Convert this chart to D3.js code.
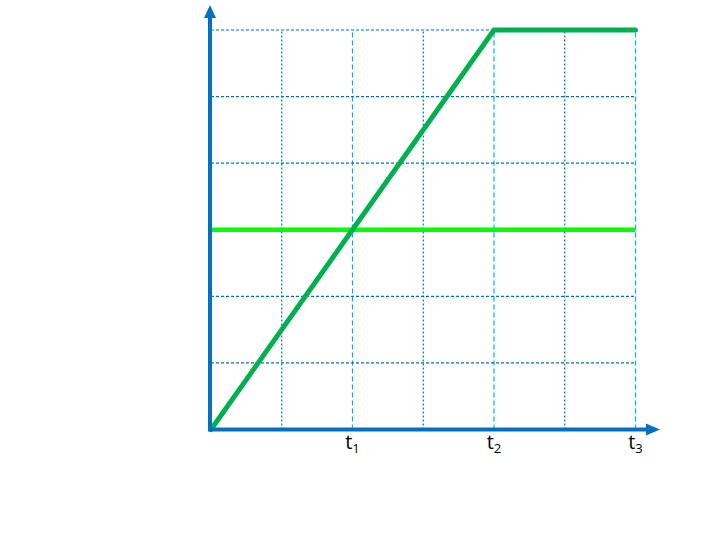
<!DOCTYPE html>
<html>
<head>
<meta charset="utf-8">
<script src="https://cdn.jsdelivr.net/npm/d3@7"></script>
<style>
  body { margin: 0; background: #fff; }
  svg { display: block; }
</style>
</head>
<body>
<svg id="chart" width="720" height="540"></svg>
<script>
// grid steps along each axis
var xGrid = [1, 2, 3, 4, 5, 6];
var yGrid = [1, 2, 3, 4, 5, 6];
// labelled time marks
var tickValues = [2, 4, 6];
var tickLabels = ["1", "2", "3"];
// ramp then hold
var rampX = [0, 4, 6];
var rampY = [0, 6, 6];
// constant level
var levelX = [0, 6];
var levelY = [3, 3];

var svg = d3.select("#chart");

var x = d3.scaleLinear().domain([0, 6]).range([211, 635.5]);
var y = d3.scaleLinear().domain([0, 6]).range([429.5, 30]);

var major = tickValues;

// vertical grid
svg.append("g").selectAll("line")
  .data(xGrid)
  .enter().append("line")
  .attr("x1", function(d){ return x(d); })
  .attr("x2", function(d){ return x(d); })
  .attr("y1", y(0))
  .attr("y2", y(6))
  .attr("stroke", function(d){ return major.indexOf(d) >= 0 ? "#00b0f0" : "#0070c0"; })
  .attr("stroke-width", 1.2)
  .attr("stroke-dasharray", function(d){ return major.indexOf(d) >= 0 ? "5,3" : "2,2"; });

// horizontal grid
svg.append("g").selectAll("line")
  .data(yGrid)
  .enter().append("line")
  .attr("x1", x(0))
  .attr("x2", x(6))
  .attr("y1", function(d){ return y(d); })
  .attr("y2", function(d){ return y(d); })
  .attr("stroke", "#0070c0")
  .attr("stroke-width", 1.2)
  .attr("stroke-dasharray", "3,2");

var line = d3.line()
  .x(function(d){ return x(d[0]); })
  .y(function(d){ return y(d[1]); });

svg.append("path")
  .datum(d3.zip(levelX, levelY))
  .attr("d", line)
  .attr("fill", "none")
  .attr("stroke", "#00ff00")
  .attr("stroke-width", 4.5);

svg.append("path")
  .datum(d3.zip(rampX, rampY))
  .attr("d", line)
  .attr("fill", "none")
  .attr("stroke", "#00b050")
  .attr("stroke-width", 5)
  .attr("stroke-linecap", "round");

// axes with arrows
var axisColor = "#0070c0";
svg.append("line")
  .attr("x1", 210).attr("y1", y(0))
  .attr("x2", 648).attr("y2", y(0))
  .attr("stroke", axisColor).attr("stroke-width", 4);
svg.append("path")
  .attr("d", "M660," + y(0) + " L646," + (y(0) - 6) + " L646," + (y(0) + 6) + " Z")
  .attr("fill", axisColor);

svg.append("line")
  .attr("x1", 210).attr("y1", y(0) + 2)
  .attr("x2", 210).attr("y2", 17)
  .attr("stroke", axisColor).attr("stroke-width", 4);
svg.append("path")
  .attr("d", "M210,5 L204,18 L216,18 Z")
  .attr("fill", axisColor);

// time labels
var labels = svg.append("g").selectAll("text")
  .data(tickValues)
  .enter().append("text")
  .attr("x", function(d){ return x(d); })
  .attr("y", 449)
  .attr("text-anchor", "middle")
  .attr("font-family", "'Open Sans', sans-serif")
  .attr("font-size", 20)
  .attr("fill", "#000");
labels.append("tspan").text("t");
labels.append("tspan")
  .attr("font-size", 13)
  .attr("dy", 4)
  .text(function(d, i){ return tickLabels[i]; });
</script>
</body>
</html>
